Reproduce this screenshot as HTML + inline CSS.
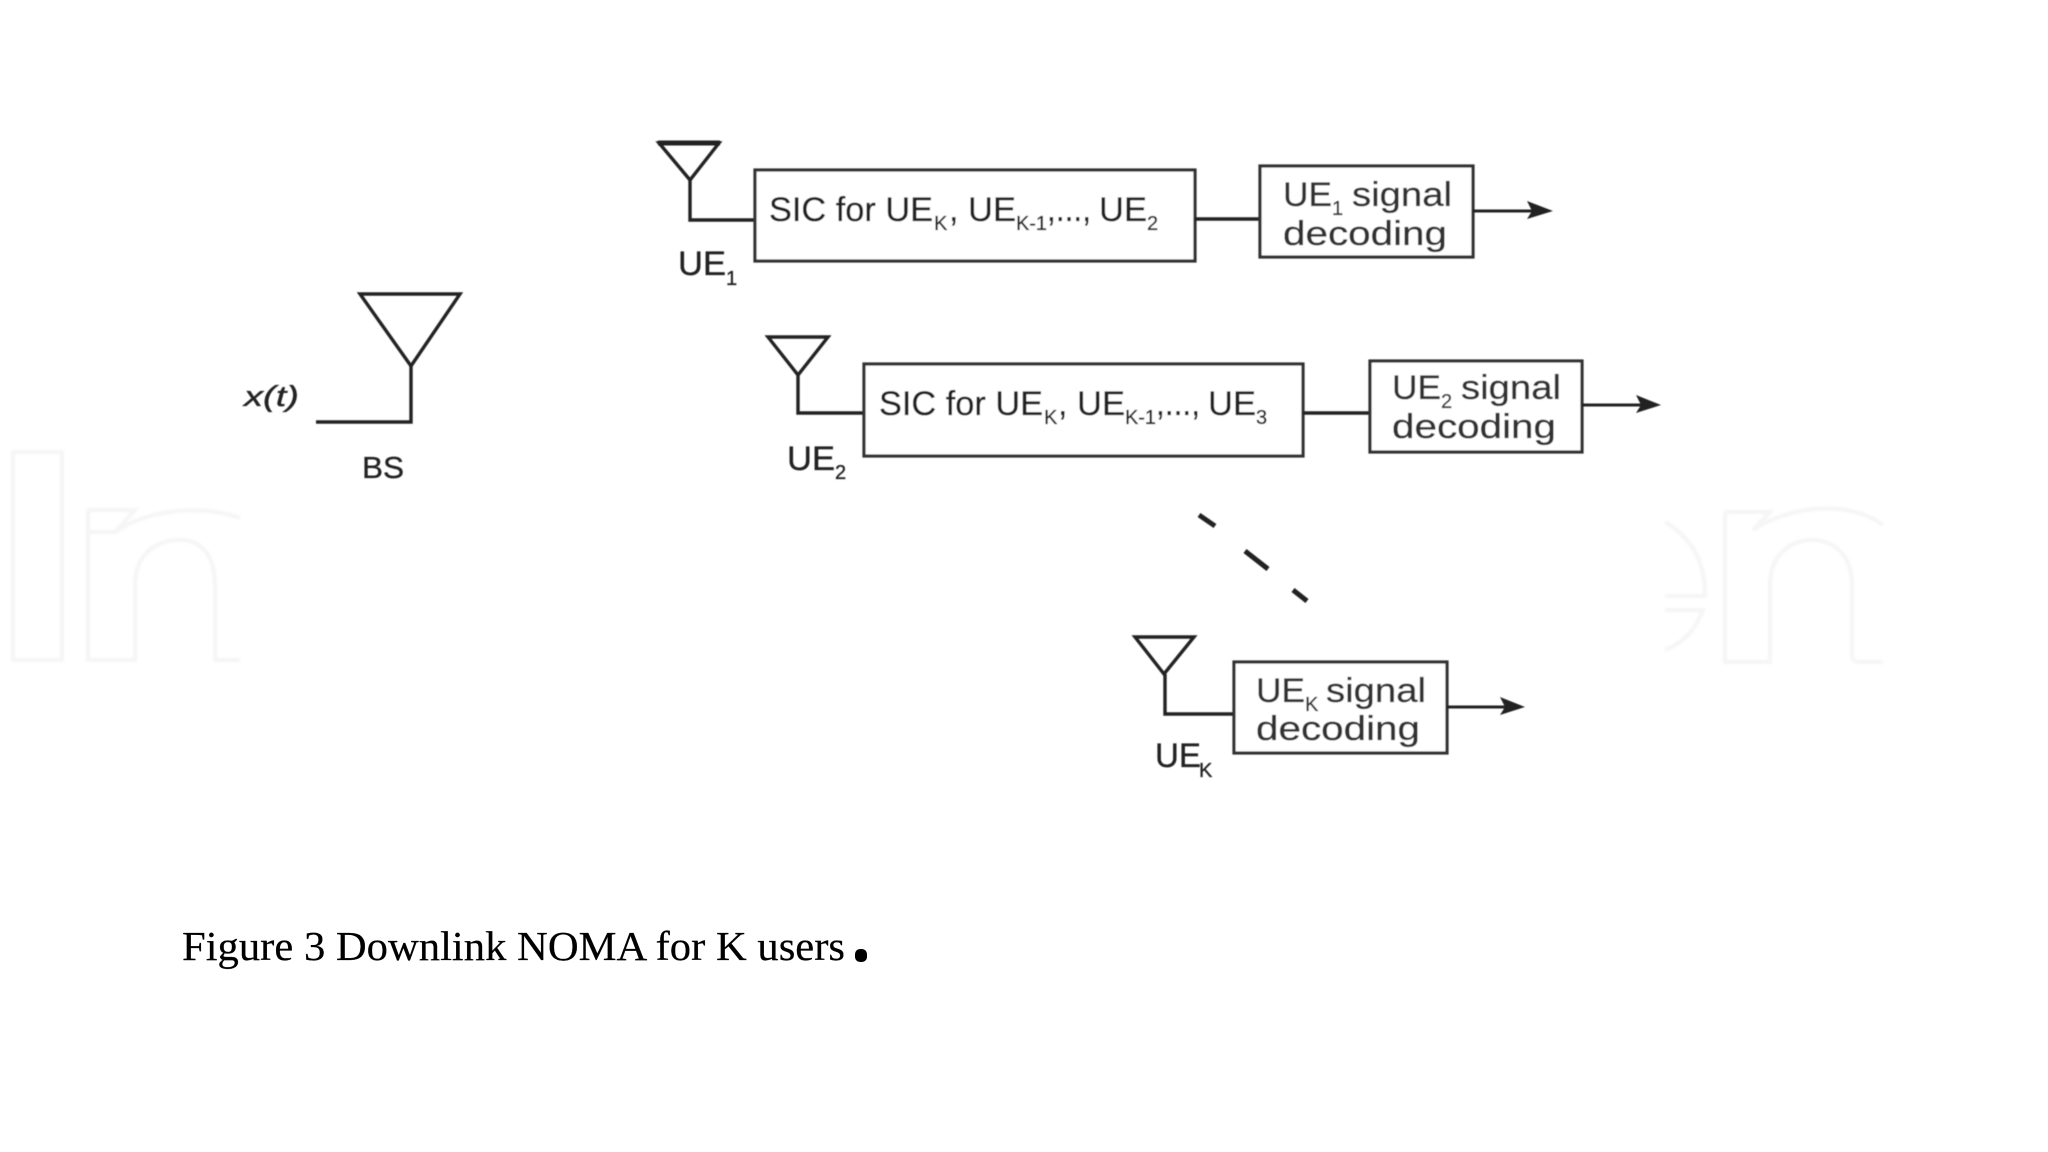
<!DOCTYPE html>
<html>
<head>
<meta charset="utf-8">
<style>
html,body{margin:0;padding:0;background:#fff;width:2048px;height:1152px;overflow:hidden}
svg{display:block}
text{font-family:"Liberation Sans",sans-serif;fill:#222;stroke:#222;stroke-width:.35}
.t{font-size:34px}
.d{font-size:34px;fill:#333;stroke:#333}
.s{font-size:20px}
.l{stroke:#222;stroke-width:3.4;fill:none;stroke-linejoin:miter}
.g{stroke:#333;stroke-width:3.2;fill:#fff}
.w{stroke:#f5f5f5;stroke-width:4;fill:none}
</style>
</head>
<body>
<svg width="2048" height="1152" viewBox="0 0 2048 1152" xmlns="http://www.w3.org/2000/svg">
<defs>
<filter id="b" x="-5%" y="-5%" width="110%" height="110%"><feGaussianBlur stdDeviation="0.6"/></filter>
<filter id="c" x="-5%" y="-5%" width="110%" height="110%"><feGaussianBlur stdDeviation="1.2"/></filter>
</defs>

<!-- watermark -->
<g class="w" filter="url(#c)">
<path d="M13 452H62V660H13Z"/>
<path d="M88 510H135L115 532C150 508 205 505 240 518M115 532L88 532M88 510V660H135V585C135 555 155 540 180 540C205 540 215 560 215 585V660H240"/>
<path d="M1725 512H1770L1753 530C1790 505 1850 500 1883 525M1725 512V662H1770V585C1770 555 1790 540 1812 540C1838 540 1852 560 1852 585V655Q1852 662 1860 662H1883"/>
<path d="M1665 522C1695 540 1705 565 1705 596H1665M1665 610H1703C1695 630 1685 642 1665 650"/>
</g>

<g filter="url(#b)">
<!-- BS -->
<path class="l" d="M360 294H460L411 366L360 294Z"/>
<path class="l" d="M411 366V422H316"/>
<text x="244" y="406" font-size="29" font-style="italic" textLength="55" lengthAdjust="spacingAndGlyphs">x(t)</text>
<text x="362" y="478" font-size="31" textLength="42" lengthAdjust="spacingAndGlyphs">BS</text>

<!-- UE1 -->
<path class="l" d="M659 143H719L690 180L659 143Z" />
<path d="M658 143H720" stroke="#222" stroke-width="5"/>
<path class="l" d="M690 180V220H755"/>
<rect class="g" x="755" y="170" width="440" height="91"/>
<text class="t" x="769" y="221" textLength="164" lengthAdjust="spacingAndGlyphs">SIC for UE</text>
<text class="s" x="934" y="230">K</text>
<text class="t" x="949" y="221">,</text>
<text class="t" x="968" y="221" textLength="48" lengthAdjust="spacingAndGlyphs">UE</text>
<text class="s" x="1016" y="230" textLength="31" lengthAdjust="spacingAndGlyphs">K-1</text>
<text class="t" x="1047" y="221" textLength="44" lengthAdjust="spacingAndGlyphs">,...,</text>
<text class="t" x="1099" y="221" textLength="48" lengthAdjust="spacingAndGlyphs">UE</text>
<text class="s" x="1147" y="230">2</text>
<path class="l" d="M1195 219H1260"/>
<rect class="g" x="1260" y="166" width="213" height="91"/>
<text class="d" x="1283" y="206" textLength="49" lengthAdjust="spacingAndGlyphs">UE</text>
<text class="s d" style="font-size:20px" x="1332" y="215">1</text>
<text class="d" x="1352" y="206" textLength="100" lengthAdjust="spacingAndGlyphs">signal</text>
<text class="d" x="1283" y="245" textLength="164" lengthAdjust="spacingAndGlyphs">decoding</text>
<path class="l" d="M1473 211H1535" style="stroke-width:3"/>
<path d="M1527 201L1553 211L1527 219L1532 211Z" fill="#222"/>
<text class="t" x="678" y="275" textLength="48" lengthAdjust="spacingAndGlyphs">UE</text>
<text class="s" x="726" y="285">1</text>

<!-- UE2 -->
<path class="l" d="M768 337H828L798 375L768 337Z"/>
<path class="l" d="M798 375V413H863"/>
<rect class="g" x="864" y="364" width="439" height="92"/>
<text class="t" x="879" y="415" textLength="164" lengthAdjust="spacingAndGlyphs">SIC for UE</text>
<text class="s" x="1044" y="424">K</text>
<text class="t" x="1058" y="415">,</text>
<text class="t" x="1077" y="415" textLength="48" lengthAdjust="spacingAndGlyphs">UE</text>
<text class="s" x="1125" y="424" textLength="31" lengthAdjust="spacingAndGlyphs">K-1</text>
<text class="t" x="1156" y="415" textLength="44" lengthAdjust="spacingAndGlyphs">,...,</text>
<text class="t" x="1208" y="415" textLength="48" lengthAdjust="spacingAndGlyphs">UE</text>
<text class="s" x="1256" y="424">3</text>
<path class="l" d="M1303 413H1369"/>
<rect class="g" x="1370" y="361" width="212" height="91"/>
<text class="d" x="1392" y="399" textLength="49" lengthAdjust="spacingAndGlyphs">UE</text>
<text class="s d" style="font-size:20px" x="1441" y="408">2</text>
<text class="d" x="1461" y="399" textLength="100" lengthAdjust="spacingAndGlyphs">signal</text>
<text class="d" x="1392" y="438" textLength="164" lengthAdjust="spacingAndGlyphs">decoding</text>
<path class="l" d="M1582 405H1644" style="stroke-width:3"/>
<path d="M1636 395L1661 405L1636 413L1641 405Z" fill="#222"/>
<text class="t" x="787" y="470" textLength="48" lengthAdjust="spacingAndGlyphs">UE</text>
<text class="s" x="835" y="479">2</text>

<!-- dashes -->
<path d="M1199 515L1215 526M1245 551L1268 569M1293 590L1307 601" stroke="#222" stroke-width="5" fill="none"/>

<!-- UEK -->
<path class="l" d="M1135 637H1194L1164 674L1135 637Z"/>
<path class="l" d="M1165 674V714H1233"/>
<rect class="g" x="1234" y="662" width="213" height="91"/>
<text class="d" x="1256" y="702" textLength="49" lengthAdjust="spacingAndGlyphs">UE</text>
<text class="s d" style="font-size:20px" x="1305" y="711">K</text>
<text class="d" x="1326" y="702" textLength="100" lengthAdjust="spacingAndGlyphs">signal</text>
<text class="d" x="1256" y="740" textLength="164" lengthAdjust="spacingAndGlyphs">decoding</text>
<path class="l" d="M1447 707H1508" style="stroke-width:3"/>
<path d="M1500 697L1525 707L1500 715L1505 707Z" fill="#222"/>
<text class="t" x="1155" y="767" textLength="46" lengthAdjust="spacingAndGlyphs">UE</text>
<text class="s" x="1199" y="777">K</text>
</g>

<!-- caption -->
<text x="182" y="960" font-size="41" style="font-family:'Liberation Serif',serif;fill:#000;stroke:#000;stroke-width:.2" textLength="663" lengthAdjust="spacingAndGlyphs">Figure 3 Downlink NOMA for K users</text>
<rect x="855" y="949" width="12" height="13" rx="5" fill="#000"/>
</svg>
</body>
</html>
